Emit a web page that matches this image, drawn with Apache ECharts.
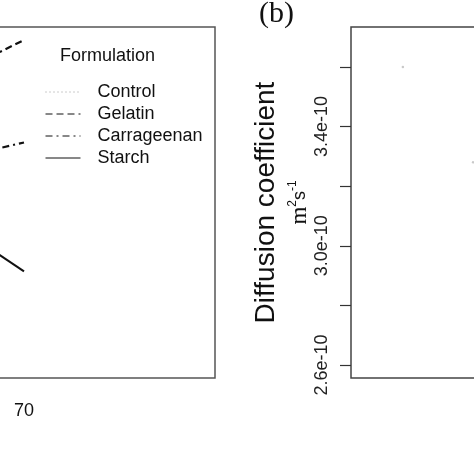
<!DOCTYPE html>
<html>
<head>
	<meta charset="utf-8">
	<title>Diffusion coefficient</title>
	<script src="https://cdn.jsdelivr.net/npm/echarts@6/dist/echarts.min.js"></script>
	<style>
		html, body { margin: 0; padding: 0; background: #fff; }
		#chart { width: 474px; height: 474px; }
	</style>
</head>
<body>
	<div id="chart"></div>
<script type="text/javascript">
	// panel (a): only the right end of the lines is visible
	var formulations = ['Control', 'Gelatin', 'Carrageenan', 'Starch'];
	var xLeft = [68, 70];
	var control = [];
	var gelatin = [90.9, 96.3];
	var carrageenan = [64.6, 67.1];
	var starch = [37.7, 30.4];

	// panel (b): two faint marks
	var xRight = [1.73, 4.07];
	var yRight = [3.6e-10, 3.28e-10];
	var yTicks = [2.6e-10, 2.8e-10, 3.0e-10, 3.2e-10, 3.4e-10, 3.6e-10];
	var yLabels = [2.6e-10, 3.0e-10, 3.4e-10];

	var font = 'Liberation Sans';
	var myChart = echarts.init(document.getElementById('chart'));

	function pairs(xs, ys) {
		var out = [];
		for (var i = 0; i < ys.length; i++) out.push([xs[i], ys[i]]);
		return out;
	}

	var option = {
		backgroundColor: '#fff',
		animation: false,
		title: [{
			text: 'Formulation',
			left: 60,
			top: 47,
			padding: 0,
			textStyle: { fontFamily: font, fontSize: 18, fontWeight: 'normal', color: '#111' }
		}, {
			text: '(b)',
			left: 259,
			top: -1,
			padding: 0,
			textStyle: { fontFamily: 'Liberation Serif', fontSize: 30, fontWeight: 'normal', color: '#111' }
		}],
		legend: {
			data: formulations,
			orient: 'vertical',
			left: 45,
			top: 83,
			padding: 0,
			itemWidth: 35,
			itemHeight: 14,
			itemGap: 4,
			lineStyle: { width: 1 },
			itemStyle: { opacity: 0 },
			textStyle: { fontFamily: font, fontSize: 18, color: '#111', padding: [0, 0, 0, 12] }
		},
		grid: [{
			left: -167,
			top: 27,
			width: 382,
			height: 351,
			outerBoundsMode: 'none',
			show: true,
			borderColor: '#555',
			borderWidth: 1.5
		}, {
			left: 351,
			top: 27,
			width: 300,
			height: 351,
			outerBoundsMode: 'none',
			show: true,
			borderColor: '#444',
			borderWidth: 1.5
		}],
		xAxis: [{
			gridIndex: 0,
			type: 'value',
			min: 60,
			max: 80,
			interval: 10,
			axisLine: { show: false },
			axisTick: { show: false },
			splitLine: { show: false },
			axisLabel: {
				showMinLabel: false,
				showMaxLabel: false,
				margin: 24,
				fontFamily: font,
				fontSize: 18,
				color: '#111'
			}
		}, {
			gridIndex: 1,
			type: 'value',
			min: 0,
			max: 10,
			show: false
		}],
		yAxis: [{
			gridIndex: 0,
			type: 'value',
			min: 0,
			max: 100,
			show: false
		}, {
			gridIndex: 1,
			type: 'value',
			min: 2.5564e-10,
			max: 3.7342e-10,
			splitLine: { show: false },
			axisLine: { show: false },
			axisTick: {
				customValues: yTicks,
				length: 11,
				lineStyle: { color: '#333', width: 1.2 }
			},
			axisLabel: {
				customValues: yLabels,
				rotate: 90,
				margin: 20,
				fontFamily: font,
				fontSize: 18,
				color: '#222',
				formatter: function(v) { return v.toExponential(1); }
			},
			name: '{a|Diffusion coefficient}\n{m|m}{sup|2}{s|s}{sup|-1}',
			nameLocation: 'middle',
			nameRotate: 90,
			nameMoveOverlap: false,
			nameGap: 38,
			nameTextStyle: {
				color: '#111',
				rich: {
					a: { fontFamily: font, fontSize: 28, lineHeight: 42, color: '#111' },
					m: { fontFamily: 'Liberation Serif', fontSize: 23, lineHeight: 26, color: '#111' },
					s: { fontFamily: font, fontSize: 18, lineHeight: 26, color: '#111' },
					sup: { fontFamily: font, fontSize: 12, lineHeight: 26, verticalAlign: 'top', color: '#111' }
				}
			}
		}],
		series: [{
			name: 'Control',
			type: 'line',
			xAxisIndex: 0,
			yAxisIndex: 0,
			symbol: 'none',
			data: pairs(xLeft, control),
			lineStyle: { color: '#999', width: 1, type: [1, 3] },
			itemStyle: { color: '#999' }
		}, {
			name: 'Gelatin',
			type: 'line',
			xAxisIndex: 0,
			yAxisIndex: 0,
			symbol: 'none',
			data: pairs(xLeft, gelatin),
			lineStyle: { color: '#111', width: 2.2, type: [7, 4] },
			itemStyle: { color: '#555' }
		}, {
			name: 'Carrageenan',
			type: 'line',
			xAxisIndex: 0,
			yAxisIndex: 0,
			symbol: 'none',
			data: pairs(xLeft, carrageenan),
			lineStyle: { color: '#111', width: 2.2, type: [7, 4, 2, 4] },
			itemStyle: { color: '#555' }
		}, {
			name: 'Starch',
			type: 'line',
			xAxisIndex: 0,
			yAxisIndex: 0,
			symbol: 'none',
			data: pairs(xLeft, starch),
			lineStyle: { color: '#111', width: 2 },
			itemStyle: { color: '#333' }
		}, {
			name: 'marks',
			type: 'scatter',
			xAxisIndex: 1,
			yAxisIndex: 1,
			symbolSize: 2.5,
			data: pairs(xRight, yRight),
			itemStyle: { color: '#bbb' }
		}]
	};
	myChart.setOption(option);
</script>
</body>
</html>
